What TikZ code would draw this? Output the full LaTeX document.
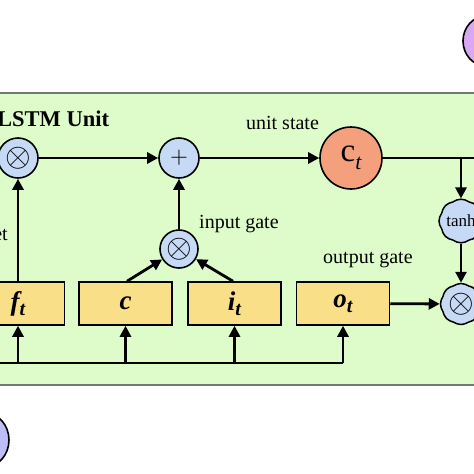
\documentclass[tikz,border=0pt]{standalone}
\usepackage{fontspec}
\setmainfont{Liberation Serif}
\usetikzlibrary{arrows.meta,shapes.symbols,shapes.geometric}
\definecolor{panelgreen}{HTML}{DEFBCA}
\definecolor{panelborder}{HTML}{707A70}
\definecolor{boxyellow}{HTML}{F9DF87}
\definecolor{nodeblue}{HTML}{C6DAF6}
\definecolor{ctsalmon}{HTML}{F4A07C}
\definecolor{sidepurple}{HTML}{D9A8F2}
\definecolor{sidelav}{HTML}{BEBEF7}
\tikzset{
  opcircle/.style={circle,draw=black,line width=1.6pt,fill=nodeblue,minimum size=40pt,inner sep=0pt},
  opcloud/.style={cloud,cloud puffs=8,cloud puff arc=70,aspect=1,draw=black,line width=1.5pt,fill=nodeblue,minimum size=41pt,inner sep=0pt},
  gatebox/.style={rectangle,draw=black,line width=1.5pt,fill=boxyellow,minimum width=93pt,minimum height=43pt,inner sep=0pt},
  conn/.style={line width=2.8pt,draw=black},
  arr/.style={conn,-{Triangle[length=11pt,width=11pt]}},
  lbl/.style={font=\fontsize{20}{20}\selectfont,inner sep=0pt},
  boxlbl/.style={font=\fontsize{27}{27}\selectfont\bfseries\itshape}
}
\newcommand{\otimessym}{\scalebox{3.3}{$\otimes$}}
\newcommand{\plussym}{\scalebox{2.3}{$+$}}
\begin{document}
\begin{tikzpicture}[x=1pt,y=-1pt]
\useasboundingbox (0,0) rectangle (474,474);
\clip (0,0) rectangle (474,474);
\fill[white] (0,0) rectangle (474,474);
% side ellipses
\draw[line width=1.6pt,fill=sidepurple] (486,41) ellipse [x radius=23,y radius=25];
\draw[line width=1.6pt,fill=sidelav] (-15,440) ellipse [x radius=24,y radius=27];
% panel
\draw[fill=panelgreen,draw=panelborder,line width=2pt] (-10,93) rectangle (484,385);
\node[anchor=base west,inner sep=0pt,font=\fontsize{22.5}{22.5}\selectfont\bfseries] (title) at (-3,126) {LSTM Unit};
% operation nodes
\node[opcircle] (fg) at (18,158) {\otimessym};
\node[opcircle] (pl) at (179,158) {\plussym};
\node[circle,draw=black,line width=1.6pt,fill=ctsalmon,minimum size=62pt,inner sep=0pt] (ct) at (351,158)
  {\fontsize{33}{33}\selectfont c\raisebox{-8pt}{\fontsize{22}{22}\selectfont\itshape t}};
\node[opcircle,minimum size=38pt] (ig) at (179,249) {\otimessym};
\node[cloud,cloud puffs=8,cloud puff arc=75,draw=black,line width=1.5pt,fill=nodeblue,minimum width=44pt,minimum height=38pt,inner sep=0pt] (tn) at (461,221) {\fontsize{17}{17}\selectfont tanh};
\node[opcloud] (og) at (461,304) {\otimessym};
% gate boxes
\node[gatebox] (ft) at (18,303.5) {};
\node[boxlbl] at (ft) {f\raisebox{-5pt}{\fontsize{20}{20}\selectfont t}};
\node[gatebox] (cb) at (125.5,303.5) {};
\node[boxlbl] at (cb) {c};
\node[gatebox] (ib) at (234.5,303.5) {};
\node[boxlbl] at (ib) {i\raisebox{-5pt}{\fontsize{20}{20}\selectfont t}};
\node[gatebox] (ob) at (343,303.5) {};
\node[boxlbl] at (ob) {o\raisebox{-5pt}{\fontsize{20}{20}\selectfont t}};
% labels
\node[lbl,anchor=base] (us) at (282.5,129) {unit state};
\node[lbl,anchor=base west] (igl) at (199,228) {input gate};
\node[lbl,anchor=base west] (ogl) at (323,263) {output gate};
\node[lbl,anchor=base east] (fgl) at (8,240) {forget};
% coordinates
\coordinate (bl0) at (-10,363);
\coordinate (blf) at (18,363);
\coordinate (blc) at (125.5,363);
\coordinate (bli) at (234.5,363);
\coordinate (blo) at (343,363);
\coordinate (outr) at (484,158);
\coordinate (br) at (461,158);
% connectors
\draw[arr] (fg) -- (pl);
\draw[arr] (pl) -- (ct);
\draw[conn] (ct) -- (outr);
\draw[arr] (br) -- (tn);
\draw[arr] (tn) -- (og);
\draw[arr] (ob) -- (og);
\draw[arr] (ft.north) -- (fg);
\draw[arr] ([xshift=1.5pt]cb.north) -- (ig);
\draw[arr] ([xshift=-1.5pt]ib.north) -- (ig);
\draw[arr] (ig) -- (pl);
\draw[conn] (bl0) -- (blo);
\draw[arr] (blf) -- (ft.south);
\draw[arr] (blc) -- (cb.south);
\draw[arr] (bli) -- (ib.south);
\draw[arr] (blo) -- (ob.south);
\end{tikzpicture}
\end{document}
